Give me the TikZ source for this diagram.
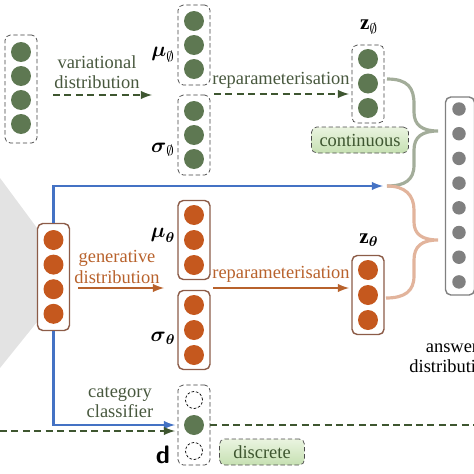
\documentclass[tikz,border=0pt]{standalone}
\usepackage{amsmath}
\usepackage{fontspec}
\setmainfont{Liberation Serif}
\usetikzlibrary{arrows}

\definecolor{vgreen}{RGB}{94,120,82}
\definecolor{vdark}{RGB}{62,86,48}
\definecolor{vtext}{RGB}{72,88,62}
\definecolor{gorange}{RGB}{197,88,30}
\definecolor{gbrown}{RGB}{140,92,72}
\definecolor{gtext}{RGB}{184,98,44}
\definecolor{cblue}{RGB}{68,114,196}
\definecolor{agray}{RGB}{128,128,128}
\definecolor{bgreen}{RGB}{163,173,154}
\definecolor{borange}{RGB}{226,180,156}
\definecolor{lgreen}{RGB}{234,244,224}
\definecolor{mgreen}{RGB}{198,224,178}

\begin{document}
\begin{tikzpicture}
  [x=0.02cm,y=-0.02cm,>=latex,
   every node/.style={font=\fontsize{10.5}{11.5}\selectfont},
   gdot/.style={circle,fill=vgreen,minimum size=0.4cm,inner sep=0pt},
   odot/.style={circle,fill=gorange,minimum size=0.4cm,inner sep=0pt},
   adot/.style={circle,fill=agray,minimum size=0.27cm,inner sep=0pt},
   edot/.style={circle,draw,dash pattern=on 1.5pt off 1pt,fill=white,minimum size=0.34cm,inner sep=0pt},
   gbox/.style={draw=black!75,dash pattern=on 2.5pt off 1.5pt,rounded corners=3pt,minimum width=0.64cm},
   obox/.style={draw=gbrown,fill=white,rounded corners=3pt,line width=0.8pt,minimum width=0.64cm},
   abox/.style={draw=agray,fill=white,rounded corners=3pt,line width=0.8pt,minimum width=0.58cm},
   kindbox/.style={draw=black!70,dash pattern=on 2.5pt off 1.5pt,rounded corners=3pt,
                   top color=lgreen,bottom color=mgreen,text=vdark,minimum height=0.52cm},
   lbl/.style={font=\large},
   garrow/.style={->,vdark,line width=1.2pt,dash pattern=on 4pt off 2.5pt},
   gdash/.style={vdark,line width=1.2pt,dash pattern=on 4pt off 2.5pt},
   oarrow/.style={->,gtext,line width=1.2pt},
   barrow/.style={->,cblue,line width=1.2pt}]
  \useasboundingbox (0,0) rectangle (474,474);

  % encoder
  \fill[gray!22] (0,178) -- (37,228) -- (37,322) -- (0,368) -- cycle;
  \node[obox,minimum height=2.14cm] (enc) at (53.5,277) {};
  \foreach \i in {0,...,3}
    \node[odot] (e\i) at (53.5,{240+24.6*\i}) {};

  % variational side
  \node[gbox,minimum height=2.16cm] (vin) at (21,89) {};
  \foreach \i in {0,...,3}
    \node[gdot] (v\i) at (21,{52+24*\i}) {};
  \node[gbox,minimum height=1.6cm] (muphi) at (194,45) {};
  \node[gbox,minimum height=1.6cm] (sigphi) at (194,135) {};
  \node[gbox,minimum height=1.56cm] (zphi) at (368,84) {};
  \foreach \i in {0,1,2} {
    \node[gdot] (mp\i) at (194,{21+24*\i}) {};
    \node[gdot] (sp\i) at (194,{111+24*\i}) {};
    \node[gdot] (zp\i) at (368,{59+24.5*\i}) {};
  }

  % generative side
  \node[obox,minimum height=1.58cm] (muth) at (194,240) {};
  \node[obox,minimum height=1.58cm] (sigth) at (194,330) {};
  \node[obox,minimum height=1.58cm] (zth) at (368,295) {};
  \foreach \i in {0,1,2} {
    \node[odot] (mt\i) at (194,{215+25*\i}) {};
    \node[odot] (st\i) at (194,{305+25*\i}) {};
    \node[odot] (zt\i) at (368,{270+25*\i}) {};
  }

  % discrete code
  \node[gbox,minimum height=1.6cm] (dbox) at (194,425) {};
  \node[edot] (d0) at (194,400) {};
  \node[gdot] (d1) at (194,425) {};
  \node[edot] (d2) at (194,451) {};

  % answer
  \node[abox,minimum height=3.96cm] (ans) at (460,196) {};
  \foreach \i in {0,...,7}
    \node[adot] (a\i) at (459,{109+24.7*\i}) {};

  % labels
  \node[lbl] (lmuphi) at (163,55) {$\boldsymbol{\mu}_{\emptyset}$};
  \node[lbl] (lsigphi) at (163,150) {$\boldsymbol{\sigma}_{\emptyset}$};
  \node[lbl] (lzphi) at (369,27) {$\mathbf{z}_{\emptyset}$};
  \node[lbl] (lmuth) at (163,235) {$\boldsymbol{\mu}_{\boldsymbol{\theta}}$};
  \node[lbl] (lsigth) at (163,338) {$\boldsymbol{\sigma}_{\boldsymbol{\theta}}$};
  \node[lbl] (lzth) at (369,240) {$\mathbf{z}_{\boldsymbol{\theta}}$};
  \node[font=\Large\sffamily\bfseries] (ld) at (163,455) {d};

  \node[vtext,align=center] (vartxt) at (97,72) {variational\\distribution};
  \node[vtext] (reptxt) at (281,80) {reparameterisation};
  \node[gtext,align=center] (gentxt) at (117,267) {generative\\distribution};
  \node[gtext] (reptxt2) at (281,274) {reparameterisation};
  \node[vtext,align=center] (cattxt) at (120,402) {category\\classifier};
  \node[align=center] (anstxt) at (452,358) {answer\\distribution};
  \node[kindbox,minimum width=1.94cm] (cont) at (360,140) {continuous};
  \node[kindbox,minimum width=1.7cm] (disc) at (262,452) {discrete};

  % connectors
  \coordinate (va1) at (53,95);
  \coordinate (va2) at (152,95);
  \coordinate (vr1) at (214,94);
  \coordinate (vr2) at (349,94);
  \coordinate (ga1) at (78,288);
  \coordinate (ga2) at (164,288);
  \coordinate (gr1) at (213,288);
  \coordinate (gr2) at (349,288);
  \coordinate (bend) at (383,186);
  \coordinate (dl) at (0,431);
  \coordinate (dr) at (474,425);
  \draw[garrow] (va1) -- (va2);
  \draw[garrow] (vr1) -- (vr2);
  \draw[oarrow] (ga1) -- (ga2);
  \draw[oarrow] (gr1) -- (gr2);
  \draw[barrow] (enc.north) |- (bend);
  \draw[barrow] (enc.south) |- ([xshift=-1.5pt]dbox.west);
  \draw[garrow,shorten >=1.5pt] (dl) -- (dl -| dbox.west);
  \draw[gdash] (dbox.east) -- (dr);

  % braces
  \coordinate (gtop) at (387,79);
  \coordinate (gtip) at (438,131);
  \coordinate (join) at (387,186);
  \coordinate (otip) at (438,240);
  \coordinate (obot) at (386,298);
  \draw[bgreen,line width=1.8pt] (gtop) .. controls (408,79) and (414,88) .. (414,104)
    -- (414,112) .. controls (414,125) and (422,131) .. (gtip)
    .. controls (422,131) and (414,137) .. (414,150) -- (414,165)
    .. controls (414,180) and (405,186) .. (join);
  \draw[borange,line width=1.8pt] (join) .. controls (405,186) and (414,195) .. (414,210)
    -- (414,222) .. controls (414,234) and (422,240) .. (otip)
    .. controls (422,240) and (414,246) .. (414,260) -- (414,276)
    .. controls (414,291) and (405,298) .. (obot);
\end{tikzpicture}
\end{document}
